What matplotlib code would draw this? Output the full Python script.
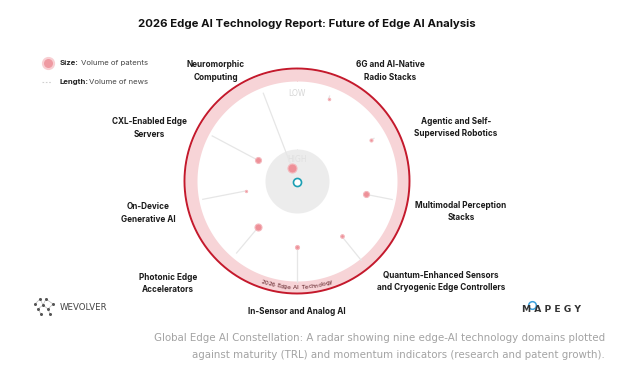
import numpy as np
import matplotlib
matplotlib.use("Agg")
import matplotlib.pyplot as plt
from matplotlib.textpath import TextPath
from matplotlib.font_manager import FontProperties

# ---------------- data ----------------
categories = [
    "Neuromorphic\nComputing",
    "6G and AI-Native\nRadio Stacks",
    "Agentic and Self-\nSupervised Robotics",
    "Multimodal Perception\nStacks",
    "Quantum-Enhanced Sensors\nand Cryogenic Edge Controllers",
    "In-Sensor and Analog AI",
    "Photonic Edge\nAccelerators",
    "On-Device\nGenerative AI",
    "CXL-Enabled Edge\nServers",
]
angles_deg = [111, 69, 29, -11, -51, -90, -130, -169, 152]
maturity_r = [14, 88, 85, 70, 71, 66, 60, 52, 44]        # distance from centre (high maturity at centre)
news_r = [94, 91, 88, 97, 102, 101, 94, 96, 96]           # outer end of news line
patent_size = [4.5, 1.2, 1.5, 3.0, 1.8, 2.0, 3.5, 1.1, 3.0]  # dot radius

label_pos = [(216, 71), (390, 71), (456, 127.5), (461, 211.5), (441, 281.5),
             (297, 312), (168, 283.5), (148, 213), (149, 128)]

W, H = 640, 382
fig = plt.figure(figsize=(W / 100, H / 100), dpi=100)
fig.patch.set_facecolor("white")

def fx(x):
    return x / W

def fy(y):
    return 1 - y / H

# ---------------- polar chart ----------------
cx, cy, R = 297, 181, 114
ax = fig.add_axes([fx(cx - R), fy(cy + R), 2 * R / W, 2 * R / H], projection="polar")
ax.set_ylim(0, R)
ax.set_axis_off()
ax.patch.set_alpha(0)

th = np.linspace(0, 2 * np.pi, 721)
# pink band and outer ring
ax.fill_between(th, 100, 112, color="#f7d4d7", lw=0, zorder=1)
ax.plot(th, np.full_like(th, 112.5), color="#c4192c", lw=1.4, zorder=2,
        clip_on=False, solid_capstyle="butt", solid_joinstyle="round")
# central gray disc
ax.fill_between(th, 0, 32, color="#ececec", lw=0, zorder=1)

ax.text(np.deg2rad(90), 88, "LOW", ha="center", va="center", fontsize=5.5,
        color="#d6d6d6", family="DejaVu Sans")
ax.text(np.deg2rad(90), 21, "HIGH", ha="center", va="center", fontsize=5.5,
        color="#e0e0e0", family="DejaVu Sans")

for a, r, nr, s in zip(angles_deg, maturity_r, news_r, patent_size):
    t = np.deg2rad(a)
    ax.plot([t, t], [r, nr], color="#e6e6e6", lw=0.9, zorder=3)
    ax.plot([t], [r], "o", ms=2 * s * 0.72, color="#ee9098",
            mec="#f4b8bd", mew=0.8, zorder=4)

# centre marker
ax.plot([np.deg2rad(-100)], [1.5], "o", ms=5.8, mfc="white", mec="#1b9fb3",
        mew=1.2, zorder=5)

# curved text along the ring
ring_text = "2026 Edge AI Technology"
fp = FontProperties(family="DejaVu Sans", size=4.3)
widths = []
for ch in ring_text:
    if ch == " ":
        widths.append(1.6)
    else:
        tp = TextPath((0, 0), ch, prop=fp)
        widths.append(tp.get_extents().width + 0.4)
total = sum(widths)
scale = 1.0 / 0.72  # pt -> px
rt = 106.5
cur = -total / 2
for ch, w in zip(ring_text, widths):
    mid = cur + w / 2
    ang = -90 + np.rad2deg((mid * scale) / rt)
    ax.text(np.deg2rad(ang), rt, ch, rotation=ang + 90, rotation_mode="anchor",
            ha="center", va="center", fontsize=4.3, color="#5a1a20",
            family="DejaVu Sans", zorder=6)
    cur += w

# ---------------- category labels ----------------
for lab, (x, y) in zip(categories, label_pos):
    fig.text(fx(x), fy(y), lab, ha="center", va="center", fontsize=5.9,
             fontweight="bold", family=["Inter", "DejaVu Sans"],
             color="#1a1a1a", linespacing=1.45)

# ---------------- title ----------------
fig.text(fx(307), fy(24), "2026 Edge AI Technology Report: Future of Edge AI Analysis",
         ha="center", va="center", fontsize=8.2, fontweight="bold",
         family=["Inter", "DejaVu Sans"], color="#111111")

# ---------------- legend ----------------
lax = fig.add_axes([0, 0, 1, 1])
lax.set_xlim(0, W)
lax.set_ylim(H, 0)
lax.set_axis_off()
lax.patch.set_alpha(0)
lax.plot([48], [63], "o", ms=8, color="#ef9aa2", mec="#f8cfd3", mew=1.5)
lax.plot([42, 51], [82, 82], color="#d0d0d0", lw=0.8, ls=(0, (1.5, 1.5)))
fig.text(fx(60), fy(63), "Size:", fontsize=5.6, va="center", fontweight="bold",
         family=["Inter", "DejaVu Sans"], color="#222")
fig.text(fx(81), fy(63), "Volume of patents", fontsize=5.6, va="center",
         family=["Inter", "DejaVu Sans"], color="#444")
fig.text(fx(60), fy(82), "Length:", fontsize=5.6, va="center", fontweight="bold",
         family=["Inter", "DejaVu Sans"], color="#222")
fig.text(fx(89), fy(82), "Volume of news", fontsize=5.6, va="center",
         family=["Inter", "DejaVu Sans"], color="#444")

# ---------------- logos ----------------
dots = [(35, 304), (40, 299), (46, 299), (43, 305), (38, 309), (48, 309), (53, 304), (41, 314), (50, 314)]
links = [(0, 1), (1, 3), (2, 3), (3, 4), (3, 5), (2, 6), (4, 7), (5, 8), (5, 6)]
for i, j in links:
    lax.plot([dots[i][0], dots[j][0]], [dots[i][1], dots[j][1]], color="#bbbbbb", lw=0.5)
lax.plot([d[0] for d in dots], [d[1] for d in dots], "o", ms=2.2, color="#555555", mew=0)
fig.text(fx(60), fy(307), "WEVOLVER", fontsize=6.2, va="center",
         family=["DejaVu Sans"], color="#444444")

lax.plot([531.5], [305], "o", ms=5.5, mfc="none", mec="#3aa0dc", mew=1.1)
fig.text(fx(551.5), fy(309), "M A P E G Y", fontsize=6.6, va="center", ha="center",
         fontweight="bold", family=["DejaVu Sans"], color="#333333")

# ---------------- caption ----------------
cap_font = ["Liberation Sans Narrow", "DejaVu Sans"]
fig.text(fx(605), fy(338),
         "Global Edge AI Constellation: A radar showing nine edge-AI technology domains plotted",
         ha="right", va="center", fontsize=7.35, family=cap_font, color="#a3a3a3")
fig.text(fx(605), fy(355),
         "against maturity (TRL) and momentum indicators (research and patent growth).",
         ha="right", va="center", fontsize=7.35, family=cap_font, color="#a3a3a3")

fig.savefig("out.png", dpi=100, facecolor="white")
